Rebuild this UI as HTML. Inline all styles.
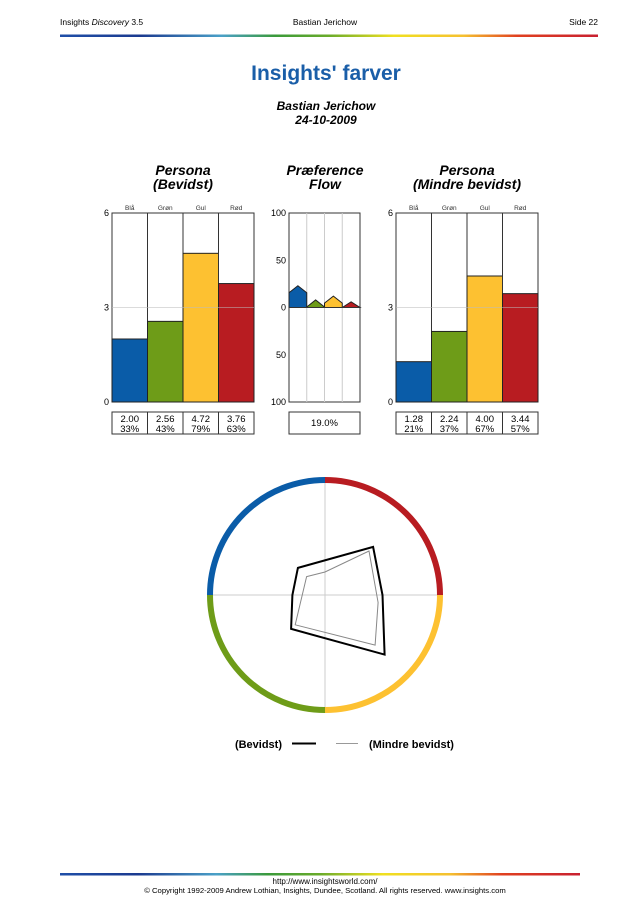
<!DOCTYPE html>
<html><head><meta charset="utf-8"><style>
html,body{margin:0;padding:0;background:#fff;}
svg{display:block;font-family:"Liberation Sans",sans-serif;}
</style></head><body>
<svg id="page" width="638" height="902" viewBox="0 0 638 902" xmlns="http://www.w3.org/2000/svg">
<defs>
<linearGradient id="rb" x1="0" x2="1" y1="0" y2="0">
<stop offset="0" stop-color="#1f4fa8"/><stop offset="0.15" stop-color="#1b3a8f"/><stop offset="0.3" stop-color="#4aa0c8"/><stop offset="0.4" stop-color="#3a9a3a"/><stop offset="0.5" stop-color="#6aab2a"/><stop offset="0.62" stop-color="#f0e020"/><stop offset="0.75" stop-color="#f5c030"/><stop offset="0.85" stop-color="#e04020"/><stop offset="1" stop-color="#c82030"/>
</linearGradient>
</defs>
<g>
<text x="60" y="25" font-size="8.5" fill="#000">Insights <tspan font-style="italic">Discovery</tspan> 3.5</text>
<text x="325" y="25" font-size="8.5" text-anchor="middle">Bastian Jerichow</text>
<text x="598" y="25" font-size="8.5" text-anchor="end">Side 22</text>
<rect x="60" y="34.5" width="538" height="2.5" fill="url(#rb)"/>
</g>
<text x="326" y="80" font-size="21" font-weight="bold" fill="#1a5ea8" text-anchor="middle">Insights' farver</text>
<text x="326" y="110" font-size="12" font-weight="bold" font-style="italic" text-anchor="middle">Bastian Jerichow</text>
<text x="326" y="124" font-size="12" font-weight="bold" font-style="italic" text-anchor="middle">24-10-2009</text>
<g id="charts"></g>
<g>
<text x="282" y="748" font-size="11" font-weight="bold" text-anchor="end">(Bevidst)</text>
<line x1="292" y1="743.5" x2="316" y2="743.5" stroke="#000" stroke-width="2"/>
<line x1="336" y1="743.5" x2="358" y2="743.5" stroke="#999" stroke-width="1"/>
<text x="369" y="748" font-size="11" font-weight="bold">(Mindre bevidst)</text>
</g>
<g>
<rect x="60" y="873" width="520" height="2.5" fill="url(#rb)"/>
<text x="325" y="884" font-size="8" text-anchor="middle">http://www.insightsworld.com/</text>
<text x="325" y="893" font-size="7.7" text-anchor="middle">© Copyright 1992-2009 Andrew Lothian, Insights, Dundee, Scotland. All rights reserved. www.insights.com</text>
</g>
</svg>
<script>
const categories = ['Blå','Grøn','Gul','Rød'];
const colors = ['#0a5ca8','#6e9c18','#fdc131','#b81c21'];
const consciousValues = [2.00, 2.56, 4.72, 3.76];
const consciousPct = ['33%','43%','79%','63%'];
const lessValues = [1.28, 2.24, 4.00, 3.44];
const lessPct = ['21%','37%','67%','57%'];
const flowValues = [23, 8, 12, 6];
const flowLabel = '19.0%';
const yTicks = [0, 3, 6];
const flowTicks = ['100','50','0','50','100'];
const radarAngles = [135, 45, 0, -45, -135, 180];
const radarConscious = [2.0, 3.55, 3.0, 4.4, 2.5, 1.7];
const radarLessAngles = [135, 90, 45, -8, -45, -135];
const radarLess = [1.36, 1.2, 3.25, 2.8, 3.7, 2.2];

const NS = 'http://www.w3.org/2000/svg';
const root = document.getElementById('charts');
function mk(tag, attrs, parent) {
  const e = document.createElementNS(NS, tag);
  for (const k in attrs) e.setAttribute(k, attrs[k]);
  (parent || root).appendChild(e);
  return e;
}
function txt(x, y, s, size, extra, parent) {
  const t = mk('text', Object.assign({x: x, y: y, 'font-size': size}, extra || {}), parent);
  t.textContent = s;
  return t;
}
const yTop = 213, yBot = 402;
function yScale(v) { return yBot - v / 6 * (yBot - yTop); }

function barChart(x0, vals, pcts, name, t1, t2, cx) {
  const g = mk('g', {});
  
  
  txt(cx, 175, t1, 14, {'font-weight':'bold','font-style':'italic','text-anchor':'middle'}, g);
  txt(cx, 189, t2, 14, {'font-weight':'bold','font-style':'italic','text-anchor':'middle'}, g);
  const w = 142, cw = w / 4;
  mk('rect', {x: x0, y: yTop, width: w, height: yBot - yTop, fill: '#fff', stroke: '#333', 'stroke-width': 1}, g);
  yTicks.forEach(t => {
    const tl = txt(x0 - 3, yScale(t) + 3, String(t), 9, {'text-anchor':'end'}, g);
    
    
  });
  vals.forEach((v, i) => {
    const x = x0 + i * cw;
    txt(x + cw / 2, 210, categories[i], 6.5, {'text-anchor':'middle', fill:'#333'}, g);
    mk('rect', {x: x, y: yTop, width: cw, height: yBot - yTop, fill: 'none', stroke: '#333', 'stroke-width': 1}, g);
    const b = mk('rect', {x: x, y: yScale(v), width: cw, height: yBot - yScale(v), fill: colors[i], stroke: '#222', 'stroke-width': 1}, g);
    
    
    mk('rect', {x: x, y: 412, width: cw, height: 22, fill: '#fff', stroke: '#333', 'stroke-width': 1}, g);
    txt(x + cw / 2, 422, v.toFixed(2), 9.5, {'text-anchor':'middle'}, g);
    txt(x + cw / 2, 432, pcts[i], 9.5, {'text-anchor':'middle'}, g);
  });
  mk('line', {x1: x0, y1: yScale(3), x2: x0 + w, y2: yScale(3), stroke: '#bbb', 'stroke-width': 0.8, opacity: 0.7}, g);
}
barChart(112, consciousValues, consciousPct, 'persona-bevidst-chart', 'Persona', '(Bevidst)', 183);
barChart(396, lessValues, lessPct, 'persona-mindre-bevidst-chart', 'Persona', '(Mindre bevidst)', 467);

(function () {
  const g = mk('g', {});
  
  
  txt(325, 175, 'Præference', 14, {'font-weight':'bold','font-style':'italic','text-anchor':'middle'}, g);
  txt(325, 189, 'Flow', 14, {'font-weight':'bold','font-style':'italic','text-anchor':'middle'}, g);
  const x0 = 289, w = 71, cw = w / 4, zero = (yTop + yBot) / 2;
  mk('rect', {x: x0, y: yTop, width: w, height: yBot - yTop, fill: '#fff', stroke: '#333', 'stroke-width': 1}, g);
  for (let i = 1; i < 4; i++) mk('line', {x1: x0 + i * cw, y1: yTop, x2: x0 + i * cw, y2: yBot, stroke: '#ccc', 'stroke-width': 1}, g);
  flowTicks.forEach((t, i) => {
    txt(x0 - 3, yTop + i * (yBot - yTop) / 4 + 3, t, 9, {'text-anchor':'end'}, g);
  });
  const fy = v => zero - v / 100 * (yBot - zero);
  flowValues.forEach((v, i) => {
    const x = x0 + i * cw, h = zero - fy(v), side = Math.max(0, h - 7);
    const p = mk('polygon', {points: `${x},${zero} ${x},${zero - side} ${x + cw / 2},${zero - h} ${x + cw},${zero - side} ${x + cw},${zero}`, fill: colors[i], stroke: '#222', 'stroke-width': 1}, g);
    
    
  });
  mk('line', {x1: x0, y1: zero, x2: x0 + w, y2: zero, stroke: '#333', 'stroke-width': 1}, g);
  mk('rect', {x: x0, y: 412, width: w, height: 22, fill: '#fff', stroke: '#333', 'stroke-width': 1}, g);
  txt(x0 + w / 2, 426, flowLabel, 9.5, {'text-anchor':'middle'}, g);
})();

(function () {
  const g = mk('g', {});
  
  
  const cx = 325, cy = 595, R = 115;
  mk('line', {x1: cx - R, y1: cy, x2: cx + R, y2: cy, stroke: '#ccc', 'stroke-width': 1}, g);
  mk('line', {x1: cx, y1: cy - R, x2: cx, y2: cy + R, stroke: '#ccc', 'stroke-width': 1}, g);
  const quads = [[90, 180, 0], [0, 90, 3], [-90, 0, 2], [180, 270, 1]];
  quads.forEach(q => {
    const a1 = q[0] * Math.PI / 180, a2 = q[1] * Math.PI / 180;
    const p = mk('path', {d: `M${cx + R * Math.cos(a1)},${cy - R * Math.sin(a1)} A${R},${R} 0 0 0 ${cx + R * Math.cos(a2)},${cy - R * Math.sin(a2)}`, fill: 'none', stroke: colors[q[2]], 'stroke-width': 6}, g);
    
    
  });
  const pt = (a, v) => { const r = v / 6 * R, t = a * Math.PI / 180; return (cx + r * Math.cos(t)).toFixed(1) + ',' + (cy - r * Math.sin(t)).toFixed(1); };
  const less = mk('polygon', {points: radarLessAngles.map((a, i) => pt(a, radarLess[i])).join(' '), fill: 'none', stroke: '#888', 'stroke-width': 1}, g);
  
  
  const con = mk('polygon', {points: radarAngles.map((a, i) => pt(a, radarConscious[i])).join(' '), fill: 'none', stroke: '#000', 'stroke-width': 2}, g);
  
  
})();
</script>
</body></html>
